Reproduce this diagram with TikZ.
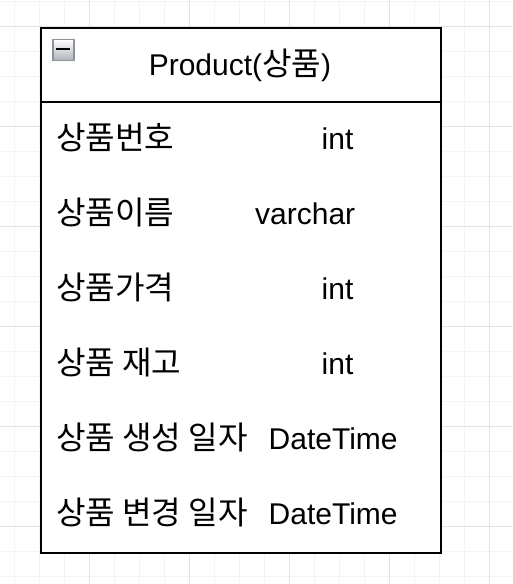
\documentclass[tikz,border=0pt]{standalone}
\usepackage{fontspec}
\setmainfont{Liberation Sans}
\newfontfamily\kr{Noto Sans CJK KR}[Scale=1.07]
\definecolor{gridminor}{HTML}{F4F4F4}
\definecolor{gridmajor}{HTML}{E3E3E3}
\definecolor{iconborder}{HTML}{8C92A0}
\begin{document}
\begin{tikzpicture}[x=1pt,y=-1pt,
  rowtext/.style={anchor=base west,inner sep=0pt,font=\fontsize{30}{34}\selectfont},
  titletext/.style={anchor=base,inner sep=0pt,font=\fontsize{30}{34}\selectfont},
  classbox/.style={draw=black,line width=2pt,fill=white,inner sep=0pt,anchor=north west,minimum width=400pt,minimum height=525pt},
  sepline/.style={draw=black,line width=2pt},
  iconbox/.style={draw=iconborder,line width=1.8pt,top color=white,bottom color=iconborder!70,inner sep=0pt,minimum size=21pt,anchor=north west}
]
\useasboundingbox (0,0) rectangle (512,584);
\fill[white] (0,0) rectangle (512,584);
% grid
\foreach \i in {0,...,20} {
  \draw[gridminor,line width=1pt] ({14.3+25*\i},0) -- ({14.3+25*\i},584);
}
\foreach \i in {0,...,23} {
  \draw[gridminor,line width=1pt] (0,{1.7+25*\i}) -- (512,{1.7+25*\i});
}
\foreach \i in {0,...,4} {
  \draw[gridmajor,line width=1pt] ({89.3+100*\i},0) -- ({89.3+100*\i},584);
}
\foreach \i in {0,...,5} {
  \draw[gridmajor,line width=1pt] (0,{26.7+100*\i}) -- (512,{26.7+100*\i});
}
% class box
\node[classbox] (cls) at (40,27) {};
\coordinate (hl) at (40,101.5);
\coordinate (hr) at (440,101.5);
\draw[sepline] (hl) -- (hr);
% collapse icon
\node[iconbox] (icon) at (52,38.5) {};
\coordinate (ml) at (56,49);
\coordinate (mr) at (70,49);
\draw[black,line width=2.4pt] (ml) -- (mr);
% title
\node[titletext] (title) at (240,75) {Product({\kr 상품})};
% rows
\node[rowtext] (n1) at (56,149) {\kr 상품번호};
\node[rowtext] (t1) at (321.5,149) {int};
\node[rowtext] (n2) at (56,224) {\kr 상품이름};
\node[rowtext] (t2) at (255,224) {varchar};
\node[rowtext] (n3) at (56,299) {\kr 상품가격};
\node[rowtext] (t3) at (321.5,299) {int};
\node[rowtext] (n4) at (56,374) {\kr 상품 재고};
\node[rowtext] (t4) at (321.5,374) {int};
\node[rowtext] (n5) at (56,449) {\kr 상품 생성 일자};
\node[rowtext] (t5) at (268.5,449) {DateTime};
\node[rowtext] (n6) at (56,524) {\kr 상품 변경 일자};
\node[rowtext] (t6) at (268.5,524) {DateTime};
\end{tikzpicture}
\end{document}
